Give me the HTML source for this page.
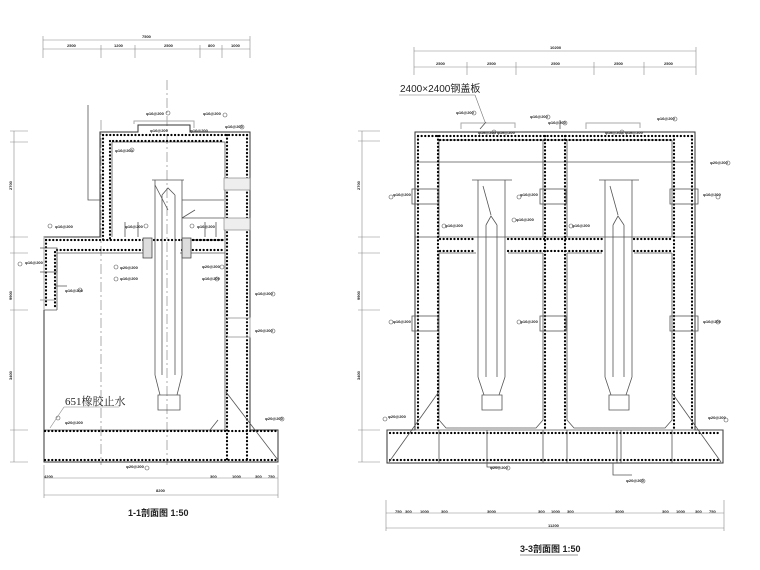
<!DOCTYPE html>
<html><head><meta charset="utf-8"><style>
html,body{margin:0;padding:0;background:#fff;}
svg{display:block;}
.l{stroke:#555;stroke-width:0.8;fill:none}
.t{stroke:#333;stroke-width:1;fill:none}
.g{stroke:#aaa;stroke-width:1;fill:none}
.d{stroke:#000;stroke-width:2.2;stroke-dasharray:0.1 3.5;stroke-linecap:round;fill:none}
.dim{stroke:#888;stroke-width:0.6;fill:none}
text{font-family:"Liberation Sans","Noto Sans CJK SC",sans-serif;fill:#222}
.s{font-size:4px;font-weight:bold}
</style></head><body>
<svg width="760" height="570" viewBox="0 0 760 570" xmlns="http://www.w3.org/2000/svg">
<rect width="760" height="570" fill="#fff"/>

<!-- ============ LEFT 1-1 ============ -->
<line class="dim" x1="43" y1="40" x2="250" y2="40"/>
<line class="dim" x1="43" y1="49" x2="250" y2="49"/>
<g class="dim"><line x1="43" y1="36" x2="43" y2="58"/><line x1="101" y1="45" x2="101" y2="58"/><line x1="135" y1="45" x2="135" y2="58"/><line x1="200" y1="45" x2="200" y2="58"/><line x1="222" y1="45" x2="222" y2="58"/><line x1="250" y1="36" x2="250" y2="58"/></g>
<text class="s" x="142" y="38">7500</text>
<text class="s" x="67" y="47">2500</text><text class="s" x="114" y="47">1200</text><text class="s" x="164" y="47">2500</text><text class="s" x="208" y="47">800</text><text class="s" x="231" y="47">1000</text>
<line class="dim" x1="14" y1="131" x2="14" y2="462"/>
<g class="dim"><line x1="10" y1="131" x2="28" y2="131"/><line x1="10" y1="142" x2="28" y2="142"/><line x1="10" y1="237" x2="28" y2="237"/><line x1="10" y1="253" x2="28" y2="253"/><line x1="10" y1="310" x2="28" y2="310"/><line x1="10" y1="430" x2="28" y2="430"/><line x1="10" y1="462" x2="28" y2="462"/></g>
<text class="s" transform="translate(12,190) rotate(-90)">2700</text>
<text class="s" transform="translate(12,300) rotate(-90)">9900</text>
<text class="s" transform="translate(12,380) rotate(-90)">3400</text>
<line x1="167" y1="80" x2="167" y2="465" stroke="#999" stroke-width="0.8" stroke-dasharray="10 3 2 3"/>
<line x1="101" y1="120" x2="101" y2="465" stroke="#999" stroke-width="0.8" stroke-dasharray="10 3 2 3"/>
<path class="t" d="M100,132 H138 V125 H190 V132 H250 V430 H278 V462 H44 V430 H44 V310 H44 V237 H100 Z"/>
<path class="l" d="M112,142 H225 V430 M112,142 V237 M57,253 H152 M57,253 V310 M44,310 H57 M180,253 H225 M44,430 H225"/>
<path class="g" d="M134,124 V121 H194 V128 M44,236 V310"/>
<g class="d">
<line x1="103" y1="135" x2="248" y2="135"/><line x1="113" y1="141" x2="224" y2="141"/>
<line x1="103" y1="135" x2="103" y2="240"/><line x1="110" y1="141" x2="110" y2="240"/>
<line x1="46" y1="240" x2="225" y2="240"/><line x1="57" y1="250" x2="150" y2="250"/>
<line x1="46" y1="240" x2="46" y2="308"/><line x1="55" y1="252" x2="55" y2="308"/>
<line x1="182" y1="240" x2="225" y2="240"/><line x1="182" y1="250" x2="225" y2="250"/>
<line x1="227" y1="135" x2="227" y2="460"/><line x1="247" y1="135" x2="247" y2="460"/>
<line x1="45" y1="431" x2="277" y2="431"/><line x1="45" y1="460" x2="277" y2="460"/>
</g>
<rect x="224" y="178" width="26" height="12" fill="#eee" stroke="#777" stroke-width="0.6"/>
<rect x="224" y="218" width="26" height="12" fill="#eee" stroke="#777" stroke-width="0.6"/>
<rect x="143" y="238" width="9" height="20" fill="#ddd" stroke="#333" stroke-width="0.7"/>
<rect x="182" y="238" width="9" height="20" fill="#ddd" stroke="#333" stroke-width="0.7"/>
<path class="l" d="M152,180 H184 M155,180 V375 M182,180 V375 M162,195 V375 M175,195 V375 M182,200 H224 M182,218 H224 M182,218 L195,210 M155,375 L160,395 H177 L182,375 M158,395 H180 V410 H158 Z M162,195 L168,188 L175,195"/>
<path class="l" d="M155,185 L168,210"/>
<path class="l" d="M226,392 L278,460 M218,420 L210,430"/>
<path class="g" d="M227,318 H250 V337 H227 M40,300 H55"/>
<path class="l" d="M88,105 V200 H100 M40,248 H57 V272 H40 M125,222 V237 M138,222 V237 M205,222 V237 M216,222 V237 M67,286 H55"/>
<g class="s">
<text x="146" y="115">φ16@200</text><text x="203" y="115">φ16@200</text><text x="225" y="128">φ16@200</text>
<text x="150" y="132">φ16@200</text><text x="190" y="132">φ16@200</text>
<text x="115" y="152">φ16@200</text><text x="55" y="228">φ16@200</text><text x="125" y="228">φ16@200</text><text x="197" y="228">φ16@200</text>
<text x="25" y="264">φ16@200</text><text x="65" y="292">φ16@200</text>
<text x="120" y="269">φ20@200</text><text x="120" y="280">φ16@200</text><text x="202" y="268">φ20@200</text><text x="202" y="280">φ16@200</text>
<text x="255" y="295">φ16@200</text><text x="255" y="332">φ20@200</text><text x="265" y="420">φ20@200</text>
<text x="65" y="424">φ20@200</text><text x="126" y="468">φ20@200</text>
<text x="44" y="478">4200</text><text x="210" y="478">300</text><text x="232" y="478">1000</text><text x="255" y="478">300</text><text x="268" y="478">750</text>
<text x="156" y="492">8200</text>
</g>
<g fill="none" stroke="#555" stroke-width="0.6">
<circle cx="168" cy="113" r="2"/><circle cx="225" cy="115" r="2"/><circle cx="242" cy="127" r="2"/><circle cx="132" cy="150" r="2"/><circle cx="50" cy="226" r="2"/><circle cx="146" cy="226" r="2"/><circle cx="192" cy="226" r="2"/><circle cx="20" cy="264" r="2"/><circle cx="80" cy="290" r="2"/><circle cx="116" cy="267" r="2"/><circle cx="116" cy="279" r="2"/><circle cx="222" cy="267" r="2"/><circle cx="217" cy="279" r="2"/><circle cx="273" cy="294" r="2"/><circle cx="273" cy="331" r="2"/><circle cx="282" cy="419" r="2"/><circle cx="58" cy="418" r="2"/><circle cx="147" cy="468" r="2"/>
</g>
<line class="dim" x1="44" y1="478" x2="278" y2="478"/><line class="dim" x1="44" y1="495" x2="278" y2="495"/>
<g class="dim"><line x1="44" y1="465" x2="44" y2="498"/><line x1="278" y1="465" x2="278" y2="498"/></g>
<text x="65" y="405" font-size="11" fill="#666" style="font-family:'Liberation Serif','Noto Serif CJK SC',serif">651橡胶止水</text>
<line x1="64" y1="407" x2="119" y2="407" stroke="#888" stroke-width="0.6"/><line x1="64" y1="407" x2="50" y2="428" stroke="#888" stroke-width="0.6"/>
<text x="128" y="516" font-size="9" font-weight="bold">1-1剖面图 1:50</text>

<!-- ============ RIGHT 3-3 ============ -->
<line class="dim" x1="414" y1="51" x2="696" y2="51"/><line class="dim" x1="414" y1="67" x2="696" y2="67"/>
<g class="dim"><line x1="414" y1="47" x2="414" y2="75"/><line x1="467" y1="62" x2="467" y2="75"/><line x1="516" y1="62" x2="516" y2="75"/><line x1="594" y1="62" x2="594" y2="75"/><line x1="644" y1="62" x2="644" y2="75"/><line x1="696" y1="47" x2="696" y2="75"/></g>
<text class="s" x="550" y="49">10200</text>
<text class="s" x="436" y="65">2500</text><text class="s" x="487" y="65">2500</text><text class="s" x="551" y="65">2500</text><text class="s" x="614" y="65">2500</text><text class="s" x="664" y="65">2500</text>
<text x="400" y="92" font-size="10" fill="#555">2400×2400钢盖板</text>
<line x1="399" y1="95" x2="475" y2="95" stroke="#777" stroke-width="0.6"/><line x1="475" y1="95" x2="485" y2="122" stroke="#777" stroke-width="0.6"/>
<line class="dim" x1="362" y1="131" x2="362" y2="462"/>
<g class="dim"><line x1="358" y1="131" x2="380" y2="131"/><line x1="358" y1="141" x2="380" y2="141"/><line x1="358" y1="237" x2="380" y2="237"/><line x1="358" y1="253" x2="380" y2="253"/><line x1="358" y1="310" x2="380" y2="310"/><line x1="358" y1="430" x2="380" y2="430"/><line x1="358" y1="462" x2="380" y2="462"/></g>
<text class="s" transform="translate(360,190) rotate(-90)">2700</text>
<text class="s" transform="translate(360,300) rotate(-90)">9900</text>
<text class="s" transform="translate(360,380) rotate(-90)">3400</text>
<path class="t" d="M415,132 H695 V430 H723 V463 H387 V430 H415 Z"/>
<path class="g" d="M461,129 V123 H515 V128 M586,129 V123 H640 V128"/>
<path class="l" d="M439,140 H672 M439,140 V237 M543,140 V237 M567,140 V237 M672,140 V237 M415,162 H695 M415,237 H695 M439,253 H476 M508,253 H543 M567,253 H602 M634,253 H672 M439,253 V420 L446,428 H536 L543,420 V253 M567,253 V420 L574,428 H665 L672,420 V253 M387,430 H723 M439,430 V463 M543,430 V463 M567,430 V463 M672,430 V463"/>
<g class="d">
<line x1="418" y1="136" x2="692" y2="136"/><line x1="440" y1="140" x2="672" y2="140"/>
<line x1="418" y1="136" x2="418" y2="430"/><line x1="438" y1="136" x2="438" y2="430"/>
<line x1="545" y1="136" x2="545" y2="430"/><line x1="565" y1="136" x2="565" y2="430"/>
<line x1="674" y1="136" x2="674" y2="430"/><line x1="692" y1="136" x2="692" y2="430"/>
<line x1="440" y1="239" x2="476" y2="239"/><line x1="440" y1="251" x2="476" y2="251"/>
<line x1="508" y1="239" x2="602" y2="239"/><line x1="508" y1="251" x2="602" y2="251"/>
<line x1="634" y1="239" x2="672" y2="239"/><line x1="634" y1="251" x2="672" y2="251"/>
<line x1="390" y1="433" x2="720" y2="433"/><line x1="390" y1="460" x2="720" y2="460"/>
</g>
<path class="l" d="M438,393 L389,462 M672,393 L721,462"/>
<g class="l">
<rect x="412" y="189" width="26" height="15"/><rect x="540" y="189" width="26" height="15"/><rect x="670" y="189" width="28" height="15"/>
<rect x="412" y="316" width="26" height="15"/><rect x="540" y="316" width="26" height="15"/><rect x="670" y="316" width="28" height="15"/>
</g>
<g class="l">
<path d="M472,180 H512 M478,180 V377 M505,180 V377 M486,225 V377 M497,225 V377 M486,225 L491,216 L497,225 M483,186 L491,215 M478,377 L484,395 H499 L505,377 M482,395 H502 V410 H482 Z"/>
<path d="M599,180 H639 M605,180 V377 M632,180 V377 M613,225 V377 M624,225 V377 M613,225 L618,216 L624,225 M610,186 L618,215 M605,377 L611,395 H626 L632,377 M609,395 H629 V410 H609 Z"/>
<path d="M613,463 V475 H632 M617,430 V463 M621,430 V463 M487,430 V467 H500 M480,129 L486,122 M560,129 V120"/>
</g>
<g class="s">
<text x="456" y="114">φ16@200</text><text x="530" y="118">φ16@200</text><text x="548" y="124">φ16@200</text><text x="657" y="120">φ16@200</text>
<text x="478" y="134">φ16@200</text><text x="497" y="134">φ16@200</text><text x="605" y="134">φ16@200</text><text x="625" y="134">φ16@200</text>
<text x="710" y="164">φ20@200</text>
<text x="393" y="196">φ16@200</text><text x="520" y="196">φ16@200</text><text x="703" y="196">φ16@200</text>
<text x="445" y="227">φ16@200</text><text x="516" y="221">φ16@200</text><text x="572" y="227">φ16@200</text>
<text x="393" y="323">φ16@200</text><text x="520" y="323">φ16@200</text><text x="703" y="323">φ16@200</text>
<text x="388" y="418">φ20@200</text><text x="708" y="419">φ20@200</text>
<text x="490" y="469">φ20@200</text><text x="626" y="482">φ20@200</text>
<text x="395" y="513">750</text><text x="405" y="513">300</text><text x="420" y="513">1000</text><text x="441" y="513">300</text><text x="487" y="513">3000</text><text x="538" y="513">300</text><text x="551" y="513">1000</text><text x="567" y="513">300</text><text x="615" y="513">3000</text><text x="662" y="513">300</text><text x="676" y="513">1000</text><text x="695" y="513">300</text><text x="709" y="513">750</text>
<text x="548" y="527">11200</text>
</g>
<g fill="none" stroke="#555" stroke-width="0.6">
<circle cx="474" cy="113" r="2"/><circle cx="548" cy="117" r="2"/><circle cx="565" cy="123" r="2"/><circle cx="675" cy="119" r="2"/>
<circle cx="494" cy="132" r="2"/><circle cx="622" cy="132" r="2"/><circle cx="728" cy="163" r="2"/>
<circle cx="391" cy="197" r="2"/><circle cx="519" cy="197" r="2"/><circle cx="718" cy="197" r="2"/>
<circle cx="444" cy="226" r="2"/><circle cx="514" cy="220" r="2"/><circle cx="571" cy="226" r="2"/>
<circle cx="391" cy="322" r="2"/><circle cx="519" cy="322" r="2"/><circle cx="718" cy="322" r="2"/>
<circle cx="385" cy="419" r="2"/><circle cx="726" cy="420" r="2"/><circle cx="508" cy="468" r="2"/><circle cx="643" cy="481" r="2"/>
</g>
<line class="dim" x1="386" y1="513" x2="724" y2="513"/><line class="dim" x1="386" y1="528" x2="724" y2="528"/>
<g class="dim"><line x1="386" y1="500" x2="386" y2="531"/><line x1="724" y1="500" x2="724" y2="531"/></g>
<text x="520" y="552" font-size="9" font-weight="bold">3-3剖面图 1:50</text>
<line x1="520" y1="555" x2="578" y2="555" stroke="#333" stroke-width="0.6"/>
</svg>
</body></html>
